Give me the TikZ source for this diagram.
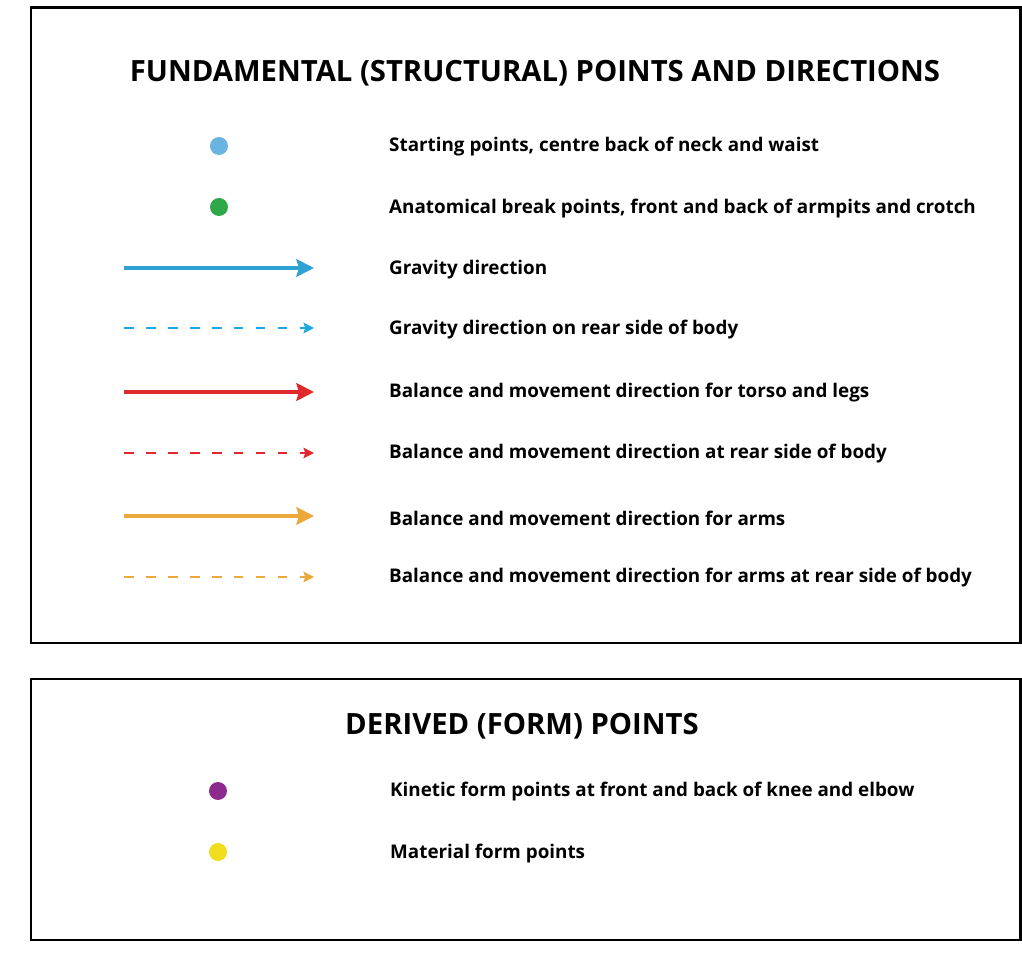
\documentclass[tikz,border=0pt]{standalone}
\usepackage{fontspec}
\setmainfont{Open Sans}
\usetikzlibrary{arrows.meta}
\definecolor{startblue}{HTML}{6AB4E2}
\definecolor{breakgreen}{HTML}{2FA84A}
\definecolor{gravblue}{HTML}{2EA3D3}
\definecolor{gravblue2}{HTML}{1AA9E3}
\definecolor{balred}{HTML}{E0282D}
\definecolor{armorange}{HTML}{ECA83A}
\definecolor{kinpurple}{HTML}{8D2A8E}
\definecolor{matyellow}{HTML}{F1DC1E}

\begin{document}
\begin{tikzpicture}[x=0.02cm,y=-0.02cm, every node/.style={font=\bfseries\fontsize{10.72}{12}\selectfont},
    frame/.style={draw, line width=1.7pt},
    heading/.style={font=\bfseries\fontsize{16.65}{19}\selectfont},
    entry/.style={anchor=west},
    dot/.style={circle, inner sep=0pt, minimum size=0.36cm},
    solidarrow/.style={line width=2.2pt, -{Stealth[length=10pt,width=10pt,inset=1.5pt]}},
    dasharrow/.style={line width=0.75pt, dash pattern=on 5.5pt off 7pt, -{Stealth[length=6pt,width=6pt,inset=1pt]}}]
    \useasboundingbox (0,0) rectangle (1022,972);
    \draw[frame] (31,8) rectangle (1020,643);
    \draw[frame] (31,679) rectangle (1020,940);
    \node[heading] (title1) at (535,73) {FUNDAMENTAL (STRUCTURAL) POINTS AND DIRECTIONS};
    \node[heading] (title2) at (522,726) {DERIVED (FORM) POINTS};
    % symbols
    \node[dot, fill=startblue] (start) at (219,146) {};
    \node[dot, fill=breakgreen] (break) at (219,207) {};
    \coordinate (g1) at (124,268); \coordinate (g2) at (314,268);
    \coordinate (r1) at (124,328); \coordinate (r2) at (314,328);
    \coordinate (b1) at (124,392); \coordinate (b2) at (314,392);
    \coordinate (c1) at (124,453); \coordinate (c2) at (314,453);
    \coordinate (a1) at (124,516); \coordinate (a2) at (314,516);
    \coordinate (d1) at (124,577); \coordinate (d2) at (314,577);
    \draw[solidarrow, gravblue] (g1) -- (g2);
    \draw[dasharrow, gravblue2] (r1) -- (r2);
    \draw[solidarrow, balred] (b1) -- (b2);
    \draw[dasharrow, balred] (c1) -- (c2);
    \draw[solidarrow, armorange] (a1) -- (a2);
    \draw[dasharrow, armorange] (d1) -- (d2);
    \node[dot, fill=kinpurple] (kinetic) at (218,791) {};
    \node[dot, fill=matyellow] (material) at (218,852) {};
    % labels
    \node[entry] (t1) at (383,147) {Starting points, centre back of neck and waist};
    \node[entry] (t2) at (383,209) {Anatomical break points, front and back of armpits and crotch};
    \node[entry] (t3) at (383,270) {Gravity direction};
    \node[entry] (t4) at (383,330) {Gravity direction on rear side of body};
    \node[entry] (t5) at (383,393) {Balance and movement direction for torso and legs};
    \node[entry] (t6) at (383,454) {Balance and movement direction at rear side of body};
    \node[entry] (t7) at (383,518) {Balance and movement direction for arms};
    \node[entry] (t8) at (383,578) {Balance and movement direction for arms at rear side of body};
    \node[entry] (t9) at (384,792) {Kinetic form points at front and back of knee and elbow};
    \node[entry] (t10) at (384,854) {Material form points};
\end{tikzpicture}
\end{document}
